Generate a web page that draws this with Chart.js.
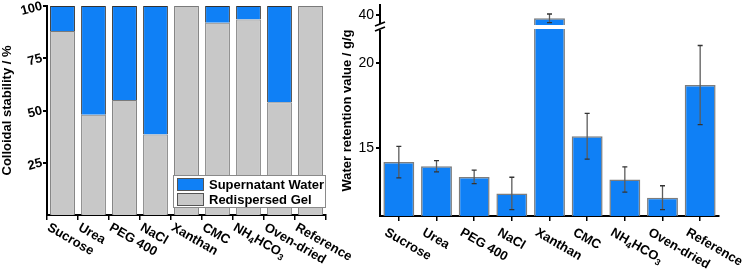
<!DOCTYPE html>
<html>
<head>
<meta charset="utf-8">
<script src="https://cdn.jsdelivr.net/npm/chart.js@4.4.1/dist/chart.umd.min.js"></script>
<style>
  html, body { margin: 0; padding: 0; background: #fff; }
  body { width: 746px; height: 272px; position: relative; overflow: hidden; }
  canvas { position: absolute; top: 0; }
  #stability { left: 0; }
  #retention { left: 340px; }
</style>
</head>
<body>
<canvas id="stability" width="380" height="272"></canvas>
<canvas id="retention" width="406" height="272"></canvas>
<script>
// categories ("_" marks a subscript digit)
const samples = ["Sucrose", "Urea", "PEG 400", "NaCl", "Xanthan", "CMC", "NH_4HCO_3", "Oven-dried", "Reference"];

// left panel: colloidal stability, %
const gelShare = [88, 48, 55, 38.5, 100, 92, 93.5, 54, 100];
const waterShare = [12, 52, 45, 61.5, 0, 8, 6.5, 46, 0];
const stabilityTicks = [25, 50, 75, 100];

// right panel: water retention value, g/g
const retention = [14.17, 13.93, 13.3, 12.33, 39.5, 15.69, 13.15, 12.08, 18.7];
const retentionErr = [0.93, 0.33, 0.4, 0.95, 0.65, 1.35, 0.74, 0.7, 2.33];
const retentionTicks = [15, 20, 40];

const BLUE = "#0f80f6";
const GREY = "#c8c8c8";
const FONT = "'Liberation Sans', Arial, sans-serif";

// linear scale with a gap between a lower and an upper value range
class BrokenLinearScale extends Chart.LinearScale {
  _parts() {
    const b = this.options.axisBreak;
    const upperBottom = this.top + b.upperPx;
    return { b, upperBottom, lowerTop: upperBottom + b.gapPx };
  }
  getPixelForValue(value) {
    if (value === null || value === undefined) return NaN;
    const { b, upperBottom, lowerTop } = this._parts();
    if (value >= b.upperMin) {
      return upperBottom - (value - b.upperMin) / (this.max - b.upperMin) * (upperBottom - this.top);
    }
    return this.bottom - (value - this.min) / (b.lowerMax - this.min) * (this.bottom - lowerTop);
  }
  getValueForPixel(pixel) {
    const { b, upperBottom, lowerTop } = this._parts();
    if (pixel <= upperBottom) {
      return b.upperMin + (upperBottom - pixel) / (upperBottom - this.top) * (this.max - b.upperMin);
    }
    return this.min + (this.bottom - pixel) / (this.bottom - lowerTop) * (b.lowerMax - this.min);
  }
}
BrokenLinearScale.id = "brokenLinear";
BrokenLinearScale.defaults = Chart.LinearScale.defaults;
Chart.register(BrokenLinearScale);

// label text with "_d" subscripts, drawn from (0,0) with top baseline
function drawRich(ctx, text, size) {
  let x = 0;
  const parts = text.split(/(_\d)/).filter(Boolean);
  for (const p of parts) {
    if (p[0] === "_") {
      ctx.font = `bold ${size - 4}px ${FONT}`;
      ctx.fillText(p.slice(1), x, size * 0.45);
      x += ctx.measureText(p.slice(1)).width;
    } else {
      ctx.font = `bold ${size}px ${FONT}`;
      ctx.fillText(p, x, 0);
      x += ctx.measureText(p).width;
    }
  }
}

function slantedLabels(dx, dy) {
  return {
    id: "slantedLabels",
    afterDraw(chart) {
      const { ctx } = chart;
      const x = chart.scales.x;
      ctx.save();
      ctx.fillStyle = "#000";
      ctx.textBaseline = "top";
      ctx.textAlign = "left";
      chart.data.labels.forEach((lab, i) => {
        ctx.save();
        ctx.translate(x.getPixelForValue(i) + dx, x.top + dy);
        ctx.rotate(30 * Math.PI / 180);
        drawRich(ctx, lab, 13);
        ctx.restore();
      });
      ctx.restore();
    },
  };
}

function fixedAxis(size) {
  return (s) => {
    if (s.isHorizontal()) s.height = size; else s.width = size;
    s.paddingTop = 0; s.paddingBottom = 0; s.paddingLeft = 0; s.paddingRight = 0;
  };
}

const stackLegend = {
  id: "stackLegend",
  afterDatasetsDraw(chart) {
    const { ctx, chartArea } = chart;
    const w = 153, h = 33;
    const left = chartArea.right - w, top = chartArea.bottom - 7 - h;
    ctx.save();
    ctx.fillStyle = "#fff";
    ctx.strokeStyle = "#8a8a8a";
    ctx.lineWidth = 1;
    ctx.fillRect(left, top, w, h);
    ctx.strokeRect(left + 0.5, top + 0.5, w - 1, h - 1);
    const items = chart.data.datasets.slice().reverse();
    items.forEach((ds, i) => {
      const y = top + 3 + i * 15;
      ctx.fillStyle = ds.backgroundColor;
      ctx.fillRect(left + 4, y, 27, 13);
      ctx.strokeStyle = "#555";
      ctx.strokeRect(left + 4.5, y + 0.5, 26, 12);
      ctx.fillStyle = "#000";
      ctx.font = `bold 13px ${FONT}`;
      ctx.textBaseline = "middle";
      ctx.fillText(ds.label, left + 36, y + 7);
    });
    ctx.restore();
  },
};

new Chart(document.getElementById("stability"), {
  type: "bar",
  data: {
    labels: samples,
    datasets: [
      { label: "Redispersed Gel", data: gelShare, backgroundColor: GREY, borderColor: "#7a7a7a", borderWidth: 1 },
      { label: "Supernatant Water", data: waterShare, backgroundColor: BLUE, borderColor: "#333", borderWidth: 1 },
    ],
  },
  options: {
    responsive: false,
    animation: false,
    layout: { padding: { left: 0, top: 6, right: 54, bottom: 0 } },
    datasets: { bar: { barPercentage: 0.8, categoryPercentage: 1.0 } },
    plugins: { legend: { display: false }, tooltip: { enabled: false } },
    scales: {
      x: {
        stacked: true,
        z: 1,
        afterFit: fixedAxis(57),
        ticks: { display: false },
        grid: { display: true, drawOnChartArea: false, drawTicks: true, tickLength: 5, color: "#000", lineWidth: 1.5, offset: true },
        border: { display: true, color: "#000", width: 2 },
      },
      y: {
        stacked: true,
        z: 1,
        min: 0,
        max: 100,
        afterFit: fixedAxis(47),
        afterBuildTicks: (s) => { s.ticks = stabilityTicks.map((v) => ({ value: v })); },
        ticks: { minRotation: 15, maxRotation: 15, padding: 1, color: "#000", font: { family: FONT, size: 13, weight: "bold" } },
        grid: { display: true, drawOnChartArea: false, drawTicks: true, tickLength: 4, color: "#000", lineWidth: 2 },
        border: { display: true, color: "#000", width: 2 },
        title: { display: true, text: "Colloidal stability / %", color: "#000", padding: { top: 0, bottom: 2 }, font: { family: FONT, size: 13, weight: "bold" } },
      },
    },
  },
  plugins: [stackLegend, slantedLabels(-11, 6)],
});

const breakAndErrors = {
  id: "breakAndErrors",
  afterDraw(chart) {
    const { ctx, chartArea } = chart;
    const x = chart.scales.x, y = chart.scales.y;
    const { upperBottom, lowerTop } = y._parts();
    ctx.save();
    // white band through bars crossing the break
    ctx.fillStyle = "#fff";
    ctx.fillRect(chartArea.left + 2, upperBottom, chartArea.right - chartArea.left, lowerTop - upperBottom);
    // error bars
    retention.forEach((v, i) => {
      const cx = x.getPixelForValue(i);
      const hi = y.getPixelForValue(v + retentionErr[i]);
      const lo = y.getPixelForValue(v - retentionErr[i]);
      ctx.strokeStyle = "#5c5c5c";
      ctx.lineWidth = 1.3;
      ctx.beginPath(); ctx.moveTo(cx, hi); ctx.lineTo(cx, lo); ctx.stroke();
      ctx.strokeStyle = "#333";
      ctx.lineWidth = 1.3;
      ctx.beginPath();
      ctx.moveTo(cx - 2.5, hi); ctx.lineTo(cx + 2.5, hi);
      ctx.moveTo(cx - 2.5, lo); ctx.lineTo(cx + 2.5, lo);
      ctx.stroke();
    });
    // axis break mark
    const ax = chartArea.left;
    ctx.fillStyle = "#fff";
    ctx.fillRect(ax - 3, upperBottom - 1, 6, lowerTop - upperBottom + 2);
    ctx.strokeStyle = "#000";
    ctx.lineWidth = 1.8;
    ctx.beginPath();
    ctx.moveTo(ax - 5, upperBottom + 1); ctx.lineTo(ax + 5, upperBottom - 3);
    ctx.moveTo(ax - 5, lowerTop + 2); ctx.lineTo(ax + 5, lowerTop - 2);
    ctx.stroke();
    ctx.restore();
  },
};

new Chart(document.getElementById("retention"), {
  type: "bar",
  data: {
    labels: samples,
    datasets: [
      { label: "Water retention value", data: retention, backgroundColor: BLUE, borderColor: "#7d7d7d", borderWidth: 1.5 },
    ],
  },
  options: {
    responsive: false,
    animation: false,
    layout: { padding: { left: 0, top: 5, right: 27, bottom: 0 } },
    datasets: { bar: { barPercentage: 0.82, categoryPercentage: 1.0 } },
    plugins: { legend: { display: false }, tooltip: { enabled: false } },
    scales: {
      x: {
        z: 1,
        afterFit: fixedAxis(56),
        ticks: { display: false },
        grid: { display: true, drawOnChartArea: false, drawTicks: true, tickLength: 5, color: "#000", lineWidth: 1.5, offset: false },
        border: { display: true, color: "#000", width: 2 },
      },
      y: {
        type: "brokenLinear",
        z: 1,
        min: 11,
        max: 41.5,
        axisBreak: { lowerMax: 22, upperMin: 38.5, upperPx: 20, gapPx: 4 },
        afterFit: fixedAxis(40),
        afterBuildTicks: (s) => { s.ticks = retentionTicks.map((v) => ({ value: v })); },
        ticks: { padding: 2, color: "#000", font: { family: FONT, size: 14 } },
        grid: { display: true, drawOnChartArea: false, drawTicks: true, tickLength: 4, color: "#000", lineWidth: 2 },
        border: { display: true, color: "#000", width: 2 },
        title: { display: true, text: "Water retention value / g/g", color: "#000", padding: { top: 0, bottom: 2 }, font: { family: FONT, size: 13, weight: "bold" } },
      },
    },
  },
  plugins: [breakAndErrors, slantedLabels(-10, 10)],
});
</script>
</body>
</html>
